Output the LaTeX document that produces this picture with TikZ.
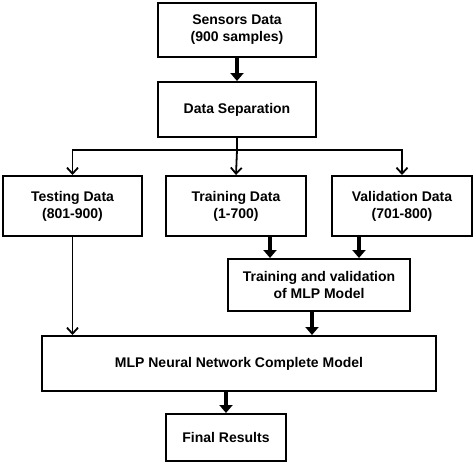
\documentclass[tikz,border=0pt]{standalone}
\usepackage{fontspec}
\setmainfont{Liberation Sans}
\usetikzlibrary{arrows.meta}
\begin{document}
\begin{tikzpicture}[
    x=1pt, y=-1pt,
    box/.style={draw, line width=2pt, align=center, inner sep=0pt,
        font=\fontsize{14}{17}\selectfont\bfseries},
    bigarrow/.style={line width=4pt, -{Triangle[length=8pt,width=13pt]}},
    thinarrow/.style={line width=1.8pt, -{Straight Barb[length=6pt,width=11pt]}}
]
\useasboundingbox (0,0) rectangle (474,464);
\node[box, minimum width=158pt, minimum height=54pt] (sensors) at (237,30) {Sensors Data\\(900 samples)};
\node[box, minimum width=158pt, minimum height=55pt] (sep) at (237,109.5) {Data Separation};
\node[box, minimum width=139pt, minimum height=60pt] (test) at (72.5,206) {Testing Data\\(801-900)};
\node[box, minimum width=140pt, minimum height=60pt] (train) at (236,206) {Training Data\\(1-700)};
\node[box, minimum width=140pt, minimum height=60pt] (valid) at (402,206) {Validation Data\\(701-800)};
\node[box, minimum width=182pt, minimum height=52pt] (tv) at (319,285) {Training and validation\\of MLP Model};
\node[box, minimum width=394pt, minimum height=55pt] (mlp) at (239,363.5) {MLP Neural Network Complete Model};
\node[box, minimum width=120pt, minimum height=47pt] (final) at (226,437.5) {Final Results};
\coordinate (split) at (237,150);
\draw[bigarrow] (sensors) -- (sep);
\draw[line width=1.8pt] (sep.south) -- (split);
\draw[thinarrow] (split) -| (test.north);
\draw[thinarrow] (split) -| (valid.north);
\draw[thinarrow] (split) -- (train.north);
\draw[bigarrow] ([xshift=34pt]train.south) -- ([xshift=34pt]train.south |- tv.north);
\draw[bigarrow] ([xshift=-43pt]valid.south) -- ([xshift=-43pt]valid.south |- tv.north);
\draw[bigarrow] ([xshift=-7pt]tv.south) -- ([xshift=-7pt]tv.south |- mlp.north);
\draw[thinarrow] (test.south) -- (test.south |- mlp.north);
\draw[bigarrow] (final.north |- mlp.south) -- (final.north);
\end{tikzpicture}
\end{document}
